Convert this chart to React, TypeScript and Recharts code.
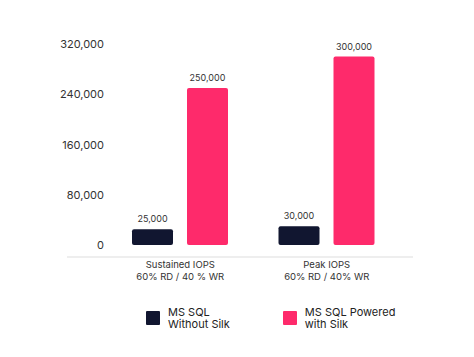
import { BarChart, Bar, XAxis, YAxis, Legend, LabelList } from 'recharts';

const categories = ['Sustained IOPS', 'Peak IOPS'];
const subLabels = ['60% RD / 40 % WR', '60% RD / 40% WR'];
const withoutSilk = [25000, 30000];
const withSilk = [250000, 300000];
const yTicks = [0, 80000, 160000, 240000, 320000];

const COLORS = {
    without: '#111630',
    with: '#fe2a6b',
};

const data = categories.map((name, i) => ({
    name,
    sub: subLabels[i],
    without: withoutSilk[i],
    with: withSilk[i],
}));

const fmt = (v: number) => v.toLocaleString('en-US');

const YTick = ({ x, y, payload }: any) => (
    <text x={x + 45} y={y} dy={4} textAnchor="end" fontSize={11} fill="#333">
        {fmt(payload.value)}
    </text>
);

const XTick = ({ x, y, payload, index }: any) => (
    <text x={x} y={y} textAnchor="middle" fontSize={9.5} fill="#333">
        <tspan x={x} dy={3}>{payload.value}</tspan>
        <tspan x={x} dy={12}>{data[index]?.sub}</tspan>
    </text>
);

const LegendContent = ({ payload }: any) => (
    <div style={{ display: 'flex', height: 30, gap: 53, alignItems: 'center' }}>
        {(payload || []).map((p: any) => (
            <div key={p.value} style={{ display: 'flex', alignItems: 'center', gap: 8 }}>
                <div style={{ width: 14, height: 14, background: p.color, borderRadius: 1 }} />
                <div style={{ fontSize: 11, lineHeight: '12px', color: '#222', whiteSpace: 'pre' }}>
                    {p.value}
                </div>
            </div>
        ))}
    </div>
);

export default function App() {
    return (
        <div style={{ fontFamily: 'Inter, sans-serif' }}>
            <BarChart
                width={466}
                height={349}
                data={data}
                margin={{ top: 36, right: 61, bottom: 40, left: 0 }}
                barSize={41}
                barGap={14}
            >
                <XAxis
                    dataKey="name"
                    axisLine={{ stroke: '#dddddd' }}
                    tickLine={false}
                    tick={<XTick />}
                    height={30}
                    padding={{ left: 40, right: 13 }}
                    interval={0}
                />
                <YAxis
                    width={59}
                    domain={[0, 320000]}
                    ticks={yTicks}
                    axisLine={false}
                    tickLine={false}
                    tick={<YTick />}
                    padding={{ bottom: 12 }}
                />
                <Legend
                    verticalAlign="bottom"
                    content={<LegendContent />}
                    wrapperStyle={{ top: 295, left: 138, width: 300 }}
                />
                <Bar dataKey="without" name={'MS SQL\nWithout Silk'} fill={COLORS.without} radius={2} isAnimationActive={false}>
                    <LabelList dataKey="without" position="top" offset={7} fontSize={9} fill="#333" formatter={(v: any) => fmt(v)} />
                </Bar>
                <Bar dataKey="with" name={'MS SQL Powered\nwith Silk'} fill={COLORS.with} radius={2} isAnimationActive={false}>
                    <LabelList dataKey="with" position="top" offset={7} fontSize={9} fill="#333" formatter={(v: any) => fmt(v)} />
                </Bar>
            </BarChart>
        </div>
    );
}
